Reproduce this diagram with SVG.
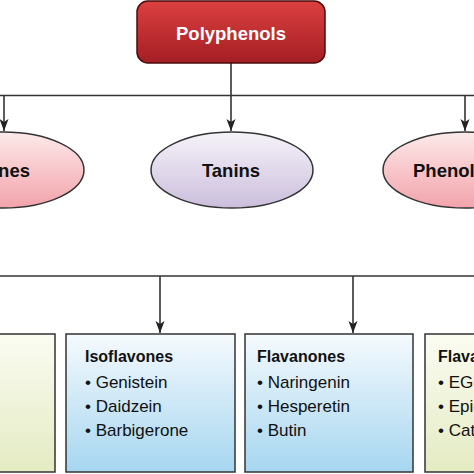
<svg xmlns="http://www.w3.org/2000/svg" width="474" height="474" viewBox="0 0 474 474">
<defs>
<linearGradient id="gRed" x1="0" y1="0" x2="0" y2="1"><stop offset="0" stop-color="#dc4040"/><stop offset="1" stop-color="#a41e24"/></linearGradient>
<linearGradient id="gPink" x1="0" y1="0" x2="0" y2="1"><stop offset="0" stop-color="#fdeaea"/><stop offset="1" stop-color="#f2a3ab"/></linearGradient>
<linearGradient id="gLav" x1="0" y1="0" x2="0" y2="1"><stop offset="0" stop-color="#f6f3f9"/><stop offset="1" stop-color="#cbbedc"/></linearGradient>
<linearGradient id="gBlue" x1="0" y1="0" x2="0" y2="1"><stop offset="0" stop-color="#f5fafd"/><stop offset="1" stop-color="#a6d6f0"/></linearGradient>
<linearGradient id="gGreen" x1="0" y1="0" x2="0" y2="1"><stop offset="0" stop-color="#fbfcf2"/><stop offset="1" stop-color="#e3ebc2"/></linearGradient>
<marker id="arr" markerWidth="12" markerHeight="10" refX="12" refY="5" orient="auto" markerUnits="userSpaceOnUse"><path d="M0,0.5 L12,5 L0,9.5 L3,5 Z" fill="#222"/></marker>
<style>
.ln{stroke:#333;stroke-width:1.6;fill:none}
.sh{stroke:#333;stroke-width:1.5}
.t{font-family:"Liberation Sans",Arial,sans-serif}
.hb{font-weight:bold;font-size:16px;fill:#111}
.it{font-size:17px;fill:#111}
.eb{font-weight:bold;font-size:18.5px;fill:#111}
</style>
</defs>
<g id="connectors">
<line class="ln" x1="231" y1="63" x2="231" y2="131" marker-end="url(#arr)"/>
<line class="ln" x1="0" y1="95.5" x2="474" y2="95.5"/>
<line class="ln" x1="4" y1="95.5" x2="4" y2="131" marker-end="url(#arr)"/>
<line class="ln" x1="465" y1="95.5" x2="465" y2="131" marker-end="url(#arr)"/>
<line class="ln" x1="0" y1="276" x2="474" y2="276"/>
<line class="ln" x1="160" y1="276" x2="160" y2="333" marker-end="url(#arr)"/>
<line class="ln" x1="353" y1="276" x2="353" y2="333" marker-end="url(#arr)"/>
</g>
<g id="polyphenols">
<rect x="137" y="1" width="188" height="62" rx="11" fill="url(#gRed)" stroke="#4a0c0c" stroke-width="1.5"/>
<text class="t" x="231" y="40" text-anchor="middle" font-weight="bold" font-size="18.5" fill="#fff">Polyphenols</text>
</g>
<g id="stilbenes">
<ellipse cx="3" cy="170" rx="81" ry="38" class="sh" fill="url(#gPink)"/>
<text class="t eb" x="30" y="177" text-anchor="end">enes</text>
</g>
<g id="tanins">
<ellipse cx="232" cy="170" rx="81" ry="38" class="sh" fill="url(#gLav)"/>
<text class="t eb" x="231" y="177" text-anchor="middle">Tanins</text>
</g>
<g id="phenolic">
<ellipse cx="465" cy="170" rx="82" ry="38" class="sh" fill="url(#gPink)"/>
<text class="t eb" x="413" y="177">Phenoli</text>
</g>
<g id="leftbox">
<rect x="-10" y="334" width="65" height="138" class="sh" fill="url(#gGreen)"/>
</g>
<g id="isoflavones">
<rect x="66" y="334" width="169" height="138" class="sh" fill="url(#gBlue)"/>
<text class="t hb" x="85" y="362">Isoflavones</text>
<text class="t it" x="85" y="388">• Genistein</text>
<text class="t it" x="85" y="412">• Daidzein</text>
<text class="t it" x="85" y="436">• Barbigerone</text>
</g>
<g id="flavanones">
<rect x="245" y="334" width="168" height="138" class="sh" fill="url(#gBlue)"/>
<text class="t hb" x="257" y="362">Flavanones</text>
<text class="t it" x="257" y="388">• Naringenin</text>
<text class="t it" x="257" y="412">• Hesperetin</text>
<text class="t it" x="257" y="436">• Butin</text>
</g>
<g id="flavanols">
<rect x="425" y="334" width="60" height="138" class="sh" fill="url(#gGreen)"/>
<text class="t hb" x="438" y="362">Flava</text>
<text class="t it" x="438" y="388">• EGC</text>
<text class="t it" x="438" y="412">• Epic</text>
<text class="t it" x="438" y="436">• Cat</text>
</g>
</svg>
